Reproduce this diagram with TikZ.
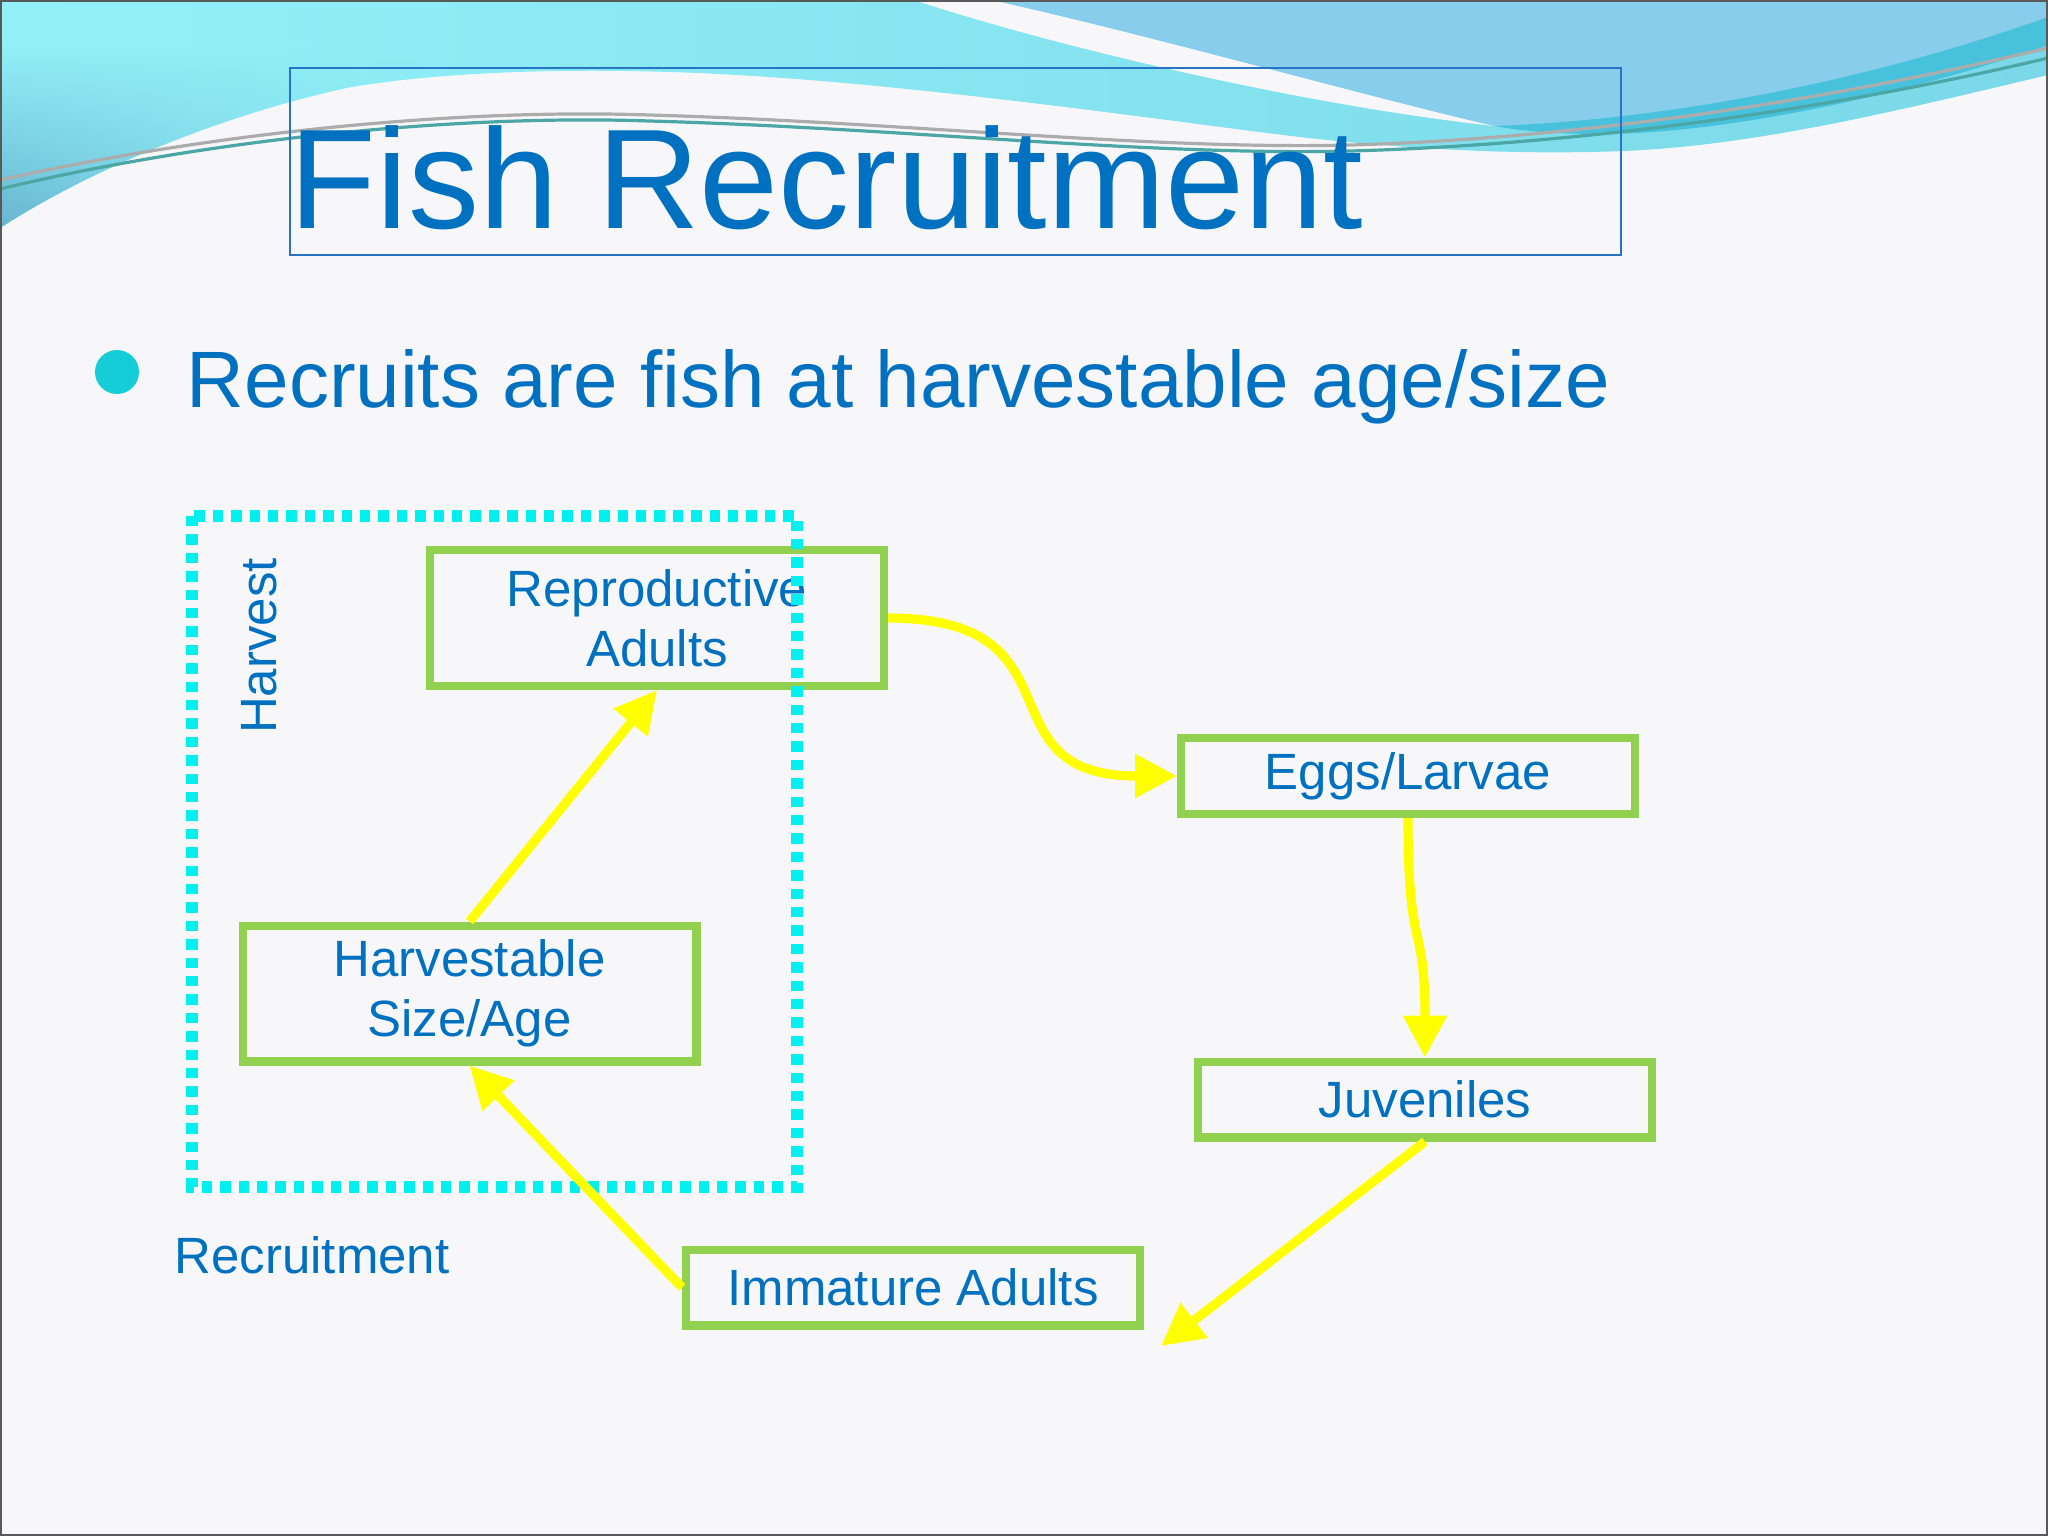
\documentclass[tikz,border=0pt]{standalone}
\usepackage{fontspec}
\setmainfont{Liberation Sans}
\usetikzlibrary{arrows.meta,fadings}
\definecolor{bgcol}{RGB}{247,247,250}
\definecolor{txtblue}{RGB}{0,112,192}
\definecolor{framblue}{RGB}{40,115,195}
\definecolor{boxgreen}{RGB}{146,208,80}
\definecolor{arrowyellow}{RGB}{255,255,0}
\definecolor{dashcyan}{RGB}{0,240,240}
\definecolor{bulletcyan}{RGB}{20,205,215}
\definecolor{cyanA}{RGB}{146,241,248}
\definecolor{cyanB}{RGB}{122,216,232}
\definecolor{cyanDark}{RGB}{104,180,208}
\definecolor{bluereg}{RGB}{136,205,235}
\definecolor{tealband}{RGB}{72,194,220}
\tikzset{
  stagebox/.style={draw=boxgreen, line width=2.1pt, minimum width=113.4pt, inner sep=0pt,
    align=center, text=txtblue, font=\fontsize{12.75}{15}\selectfont},
  twoline/.style={minimum height=33.9pt},
  oneline/.style={minimum height=18.9pt},
  flow/.style={draw=arrowyellow, line width=2.3pt, -{Triangle[length=10.5pt,width=10.5pt]}},
  lbl/.style={text=txtblue, inner sep=0pt, font=\fontsize{12.75}{15}\selectfont},
  zone/.style={draw=dashcyan, line width=2.9pt, dash pattern=on 2.6pt off 2pt}
}
\begin{document}
\begin{tikzpicture}[x=0.25pt,y=-0.25pt]
\useasboundingbox (0,0) rectangle (2048,1536);
% background
\fill[bgcol] (0,0) rectangle (2048,1536);
% waves: light cyan body
\def\cyanbody{(0,0) -- (2048,0) -- (2048,75)
  .. controls (1900,110) and (1760,145) .. (1624,151)
  .. controls (1520,155) and (1400,150) .. (1267,133)
  .. controls (1150,118) and (950,90) .. (783,78)
  .. controls (650,68) and (480,66) .. (351,87)
  .. controls (220,115) and (90,170) .. (0,228) -- cycle}
\shade[left color=cyanA, right color=cyanB] \cyanbody;
\begin{scope}
  \clip \cyanbody;
  \shade[top color=cyanA, bottom color=cyanDark, path fading=east] (0,40) rectangle (420,230);
\end{scope}
% white stripe
\fill[bgcol] (914,0) .. controls (1050,45) and (1300,105) .. (1495,126)
  .. controls (1380,100) and (1150,35) .. (992,0) -- cycle;
% blue region
\fill[bluereg] (992,0) -- (2048,0) -- (2048,17)
  .. controls (1900,70) and (1700,118) .. (1495,126)
  .. controls (1380,100) and (1150,35) .. (992,0) -- cycle;
% teal band
\fill[tealband] (1495,126) .. controls (1700,118) and (1900,70) .. (2048,17)
  -- (2048,45) .. controls (1900,97) and (1720,134) .. (1600,134)
  .. controls (1550,134) and (1515,130) .. (1495,126) -- cycle;
% thin lines
\draw[line width=0.8pt, gray!65] (0,180) .. controls (200,135) and (450,108) .. (650,115)
  .. controls (900,122) and (1150,150) .. (1350,145)
  .. controls (1600,138) and (1850,95) .. (2048,48);
\draw[line width=0.8pt, teal!70] (0,189) .. controls (200,141) and (450,114) .. (650,121)
  .. controls (900,128) and (1150,156) .. (1350,151)
  .. controls (1600,144) and (1850,105) .. (2048,58);
% frame
\draw[line width=0.6pt, gray!70!black] (1,1) rectangle (2047,1535);
% title
\draw[framblue, line width=0.6pt] (290,68) rectangle (1621,255);
\node[anchor=base west, inner sep=0pt, text=txtblue, font=\fontsize{35.5}{40}\selectfont] (title) at (289,228) {Fish Recruitment};
% bullet
\fill[bulletcyan] (117,372) circle (5.5pt);
\node[anchor=base west, inner sep=0pt, text=txtblue, font=\fontsize{20}{24}\selectfont] (bullet) at (186,407) {Recruits are fish at harvestable age/size};
% boxes
\node[stagebox, twoline] (ra) at (657,618) {Reproductive\\Adults};
\node[stagebox, twoline] (hs) at (469.5,993.5) {Harvestable\\Size/Age};
\node[stagebox, oneline] (el) at (1408,776) {Eggs/Larvae};
\node[stagebox, oneline] (ju) at (1425,1099.5) {Juveniles};
\node[stagebox, oneline] (ia) at (913,1287.5) {Immature Adults};
\coordinate (freeend) at (1161,1346);
% zone
\draw[zone] (192,516) rectangle (797,1187);
\node[lbl, rotate=90] (harvest) at (259,646) {Harvest};
\node[lbl] (recruit) at (312,1255) {Recruitment};
% arrows
\draw[flow] (ra.east) .. controls +(200,0) and +(-200,0) .. (el.west);
\draw[flow] (el.south) .. controls +(0,140) and +(0,-140) .. (ju.north);
\draw[flow] (ju.south) -- (freeend);
\draw[flow] (ia.west) -- (hs.south);
\draw[flow] (hs.north) -- (ra.south);
\end{tikzpicture}
\end{document}
